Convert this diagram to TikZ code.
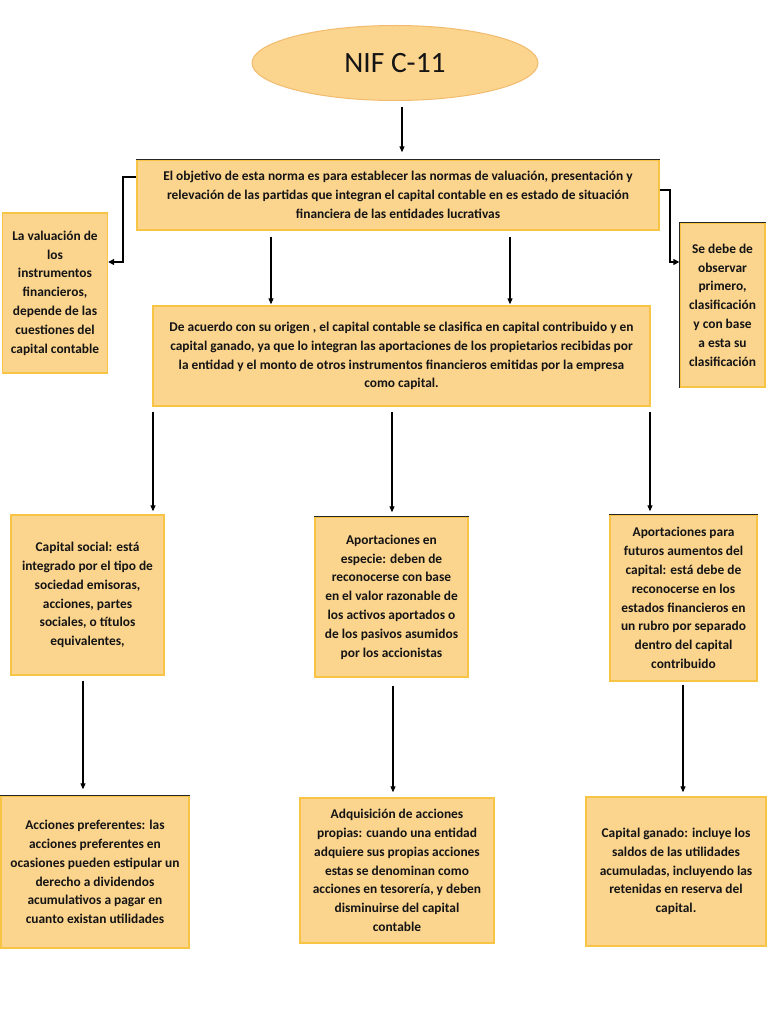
\documentclass[tikz,border=0pt]{standalone}
\usepackage{fontspec}
\setmainfont{Carlito}
\usetikzlibrary{arrows.meta,shapes.geometric}
\definecolor{boxfill}{RGB}{251,212,142}
\definecolor{boxline}{RGB}{247,196,70}
\definecolor{ellline}{RGB}{242,188,110}
\definecolor{ink}{RGB}{20,20,20}
\tikzset{
  box/.style={draw=boxline, line width=1.4pt, fill=boxfill, inner sep=0pt, align=center,
    font=\bfseries\fontsize{13.4}{18.8}\selectfont, text=ink},
  topline/.style={draw=black!85, line width=1.5pt},
  arr/.style={-{Triangle[length=6pt,width=5pt]}, line width=1.1pt, black},
  elbow/.style={-{Triangle[length=6pt,width=6pt]}, line width=2pt, black},
}
\begin{document}
\begin{tikzpicture}[x=1pt,y=-1pt]
\useasboundingbox[fill=white] (0,0) rectangle (768,1024);

\node[ellipse, draw=ellline, line width=1pt, fill=boxfill, minimum width=286, minimum height=75,
  inner sep=0pt, text=ink, font=\fontsize{29.5}{33}\selectfont] (title) at (395,63) {NIF C-11};

\node[box, minimum width=522, minimum height=70] (main) at (398,195)
  {El objetivo de esta norma es para establecer las normas de valuación, presentación y\\
   relevación de las partidas que integran el capital contable en es estado de situación\\
   financiera de las entidades lucrativas};
\draw[topline] (main.north west) -- (main.north east);

\node[box, minimum width=105, minimum height=160] (lbox) at (55,293)
  {La valuación de\\los\\instrumentos\\financieros,\\depende de las\\cuestiones del\\capital contable};

\node[box, minimum width=85, minimum height=164] (rbox) at (722.5,305)
  {Se debe de\\observar\\primero,\\clasificación\\y con base\\a esta su\\clasificación};
\draw[topline] (rbox.south west) -- (rbox.north west) -- (rbox.north east);

\node[box, minimum width=497, minimum height=100] (sec) at (401.5,356)
  {De acuerdo con su origen , el capital contable se clasifica en capital contribuido y en\\
   capital ganado, ya que lo integran las aportaciones de los propietarios recibidas por\\
   la entidad y el monto de otros instrumentos financieros emitidas por la empresa\\
   como capital.};

\node[box, minimum width=153, minimum height=160] (r3a) at (87.5,595)
  {Capital social: está\\integrado por el tipo de\\sociedad emisoras,\\acciones, partes\\sociales, o títulos\\equivalentes,};

\node[box, minimum width=153, minimum height=160] (r3b) at (391.5,597)
  {Aportaciones en\\especie: deben de\\reconocerse con base\\en el valor razonable de\\los activos aportados o\\de los pasivos asumidos\\por los accionistas};
\draw[topline] (r3b.north west) -- (r3b.north east);

\node[box, minimum width=147, minimum height=166] (r3c) at (683.5,598)
  {Aportaciones para\\futuros aumentos del\\capital: está debe de\\reconocerse en los\\estados financieros en\\un rubro por separado\\dentro del capital\\contribuido};
\draw[topline] (r3c.north west) -- (r3c.north east);

\node[box, minimum width=188, minimum height=152] (r4a) at (95,872)
  {Acciones preferentes: las\\acciones preferentes en\\ocasiones pueden estipular un\\derecho a dividendos\\acumulativos a pagar en\\cuanto existan utilidades};
\draw[topline] (r4a.north west) -- (r4a.north east);

\node[box, minimum width=194, minimum height=145] (r4b) at (397,870.5)
  {Adquisición de acciones\\propias: cuando una entidad\\adquiere sus propias acciones\\estas se denominan como\\acciones en tesorería, y deben\\disminuirse del capital\\contable};

\node[box, minimum width=180, minimum height=149] (r4c) at (676,871.5)
  {Capital ganado: incluye los\\saldos de las utilidades\\acumuladas, incluyendo las\\retenidas en reserva del\\capital.};

% connectors
\draw[arr, shorten <=6pt, shorten >=7pt] (title.south -| 402,0) -- (main.north -| 402,0);

\draw[elbow] (main.west |- 0,177) -- (123,177) -- (123,262) -- (lbox.east |- 0,262);
\draw[elbow] (main.east |- 0,190) -- (670,190) -- (670,262) -- (rbox.west |- 0,262);

\draw[arr, shorten <=6pt, shorten >=1pt] (main.south -| 271,0) -- (sec.north -| 271,0);
\draw[arr, shorten <=6pt, shorten >=1pt] (main.south -| 510,0) -- (sec.north -| 510,0);

\draw[arr, shorten <=5pt, shorten >=3pt] (sec.south -| 153,0) -- (r3a.north -| 153,0);
\draw[arr, shorten <=5pt, shorten >=4pt] (sec.south -| 392,0) -- (r3b.north -| 392,0);
\draw[arr, shorten <=5pt, shorten >=3pt] (sec.south -| 650,0) -- (r3c.north -| 650,0);

\draw[arr, shorten <=5pt, shorten >=6pt] (r3a.south -| 83,0) -- (r4a.north -| 83,0);
\draw[arr, shorten <=8pt, shorten >=5pt] (r3b.south -| 393,0) -- (r4b.north -| 393,0);
\draw[arr, shorten <=3pt, shorten >=4pt] (r3c.south -| 683,0) -- (r4c.north -| 683,0);
\end{tikzpicture}
\end{document}
